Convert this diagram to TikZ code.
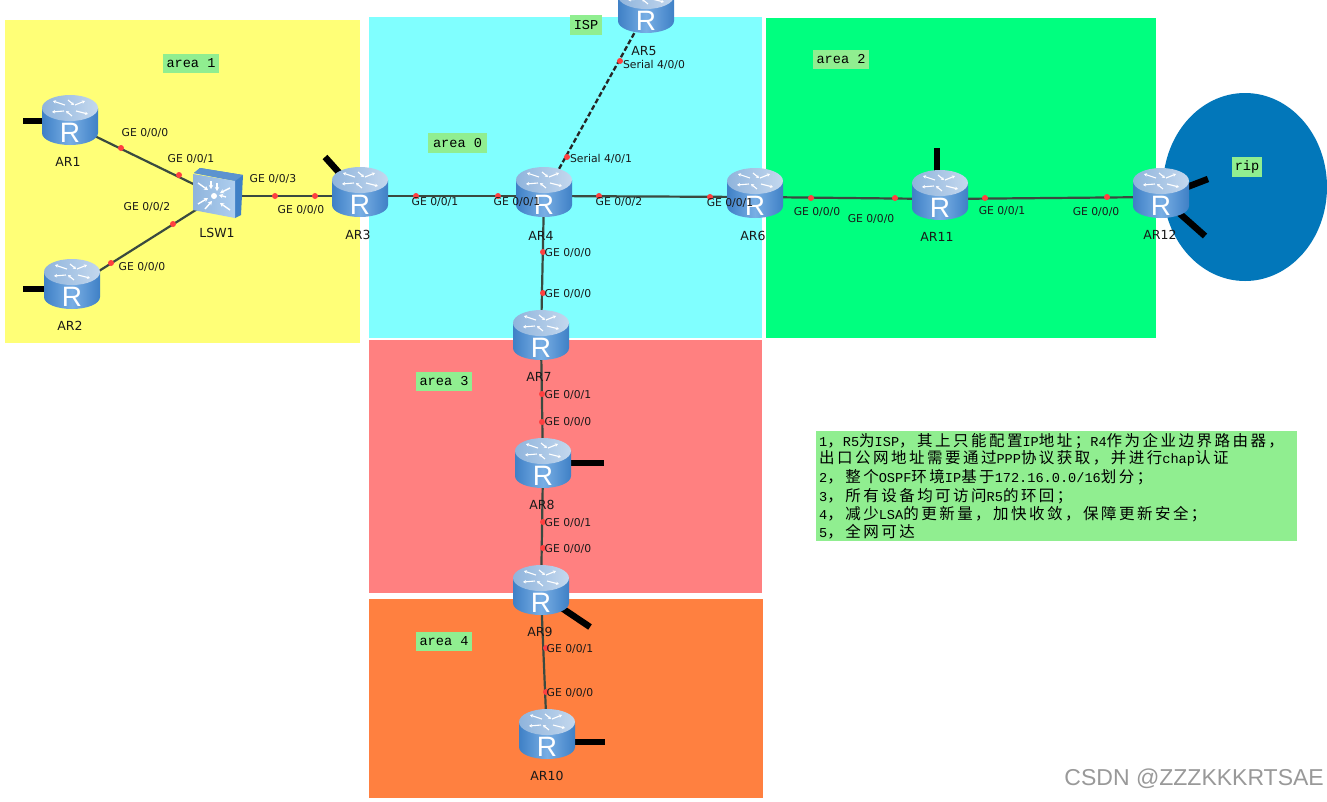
\documentclass[tikz,border=0pt]{standalone}
\usepackage{fontspec}
\usetikzlibrary{arrows.meta}
\setmainfont{DejaVu Sans}
\newfontfamily\monof{Liberation Mono}
\newfontfamily\cjk[LetterSpace=16]{Noto Sans CJK SC}
\newfontfamily\wmark{Liberation Sans}
\newcommand{\zh}[1]{{\fontsize{15.5}{18}\cjk #1}}
\definecolor{cyellow}{HTML}{FFFF77}
\definecolor{ccyan}{HTML}{80FFFF}
\definecolor{cgreen}{HTML}{00FF7F}
\definecolor{cred}{HTML}{FF8080}
\definecolor{corange}{HTML}{FF8040}
\definecolor{cblue}{HTML}{0277BA}
\definecolor{clabel}{HTML}{90EE90}
\definecolor{cport}{HTML}{FF4040}
\definecolor{rside}{HTML}{3F80C6}
\definecolor{rmid}{HTML}{78AEE4}
\definecolor{rtopa}{HTML}{8FB4DC}
\definecolor{rtopb}{HTML}{C4D8EE}
\definecolor{cline}{HTML}{3A4A40}
\tikzset{
  x=1pt,y=-1pt,
  device/.style={rectangle,minimum width=56pt,minimum height=42pt,inner sep=0},
  link/.style={draw=cline,line width=2.2pt},
  seriallink/.style={draw=black!85,line width=2.3pt,dash pattern=on 5pt off 2.5pt},
  stub/.style={draw=black,line width=6.5pt},
  portdot/.style={circle,fill=cport,minimum size=6pt,inner sep=0},
  portlab/.style={font=\fontsize{10.8}{12}\selectfont,inner sep=0,text=black!90},
  devlab/.style={font=\fontsize{12.5}{14}\selectfont,inner sep=0,text=black!90},
  tag/.style={fill=clabel,inner sep=0,font=\monof\fontsize{13.6}{15}\selectfont,text=black},
  swirl/.style={draw=white,line width=1.1pt,-{Stealth[length=3pt,width=3.5pt]}},
}
\newcommand{\routericon}[1]{%
  \begin{scope}[shift={(#1)}]
    \path[left color=rside,right color=rside,middle color=rmid]
      (-28,-16) -- (-28,9) .. controls (-28,16) and (-15,21) .. (0,21)
      .. controls (15,21) and (28,16) .. (28,9) -- (28,-16) -- cycle;
    \path[left color=rtopa,right color=rtopb] (0,-16) ellipse [x radius=28,y radius=13];
    \draw[swirl] (-5,-19) -- (-17,-23);
    \draw[swirl] (-6,-13) -- (-18,-12);
    \draw[swirl] (5,-19) -- (15,-23);
    \draw[swirl] (6,-13) -- (18,-10);
    \draw[swirl] (-2,-24) -- (4,-19);
    \draw[swirl] (2,-8) -- (-4,-13);
    \node[text=white,inner sep=0,font=\fontsize{28}{28}\selectfont\wmark] at (0,9) {R};
  \end{scope}}
\newcommand{\switchicon}[1]{%
  \begin{scope}[shift={(#1)}]
    \fill[rside] (-24,-23) -- (-18,-28) -- (25,-21) -- (23,19) -- (17,22) -- (17,-15) -- cycle;
    \fill[rside!85!white] (-24,-23) -- (-18,-28) -- (25,-21) -- (17,-15) -- cycle;
    \path[left color=rtopa,right color=rmid!60!white] (-25,-22) -- (17,-15) -- (17,22) -- (-25,14) -- cycle;
    \foreach \a/\b/\c/\d in {-20/-13/-10/-6, 12/-8/2/-3, -20/8/-10/2, 12/14/2/7,-7/-15/-7/-7,-1/-13/-1/-5,-13/13/-6/5,8/1/1/-1}
      \draw[draw=white,line width=1.4pt,-{Stealth[length=4pt,width=4.5pt]}] (\a,\b) -- (\c,\d);
    \fill[white] (-4,0) circle [radius=3];
  \end{scope}}
\begin{document}
\begin{tikzpicture}
\useasboundingbox (0,0) rectangle (1327,801);
\fill[white] (0,0) rectangle (1327,801);
% zones
\fill[cyellow] (5,20) rectangle (360,343);
\fill[ccyan] (369,17) rectangle (762,338);
\fill[cgreen] (766,18) rectangle (1156,338);
\fill[cred] (369,340) rectangle (762,593);
\fill[corange] (369,599) rectangle (763,798);
\fill[cblue] (1245,187) ellipse [x radius=82,y radius=94];
% devices (icon is drawn later, above the links)
\node[device] (AR1) at (70,124) {};
\node[device] (AR2) at (72,288) {};
\node[device] (AR3) at (360,196) {};
\node[device] (AR4) at (544,196) {};
\node[device] (AR5) at (646,12) {};
\node[device] (AR6) at (755,197) {};
\node[device] (AR7) at (541,339) {};
\node[device] (AR8) at (543,467) {};
\node[device] (AR9) at (541,594) {};
\node[device] (AR10) at (547,738) {};
\node[device] (AR11) at (940,199) {};
\node[device] (AR12) at (1161,197) {};
\node[rectangle,minimum width=48pt,minimum height=44pt,inner sep=0] (LSW1) at (218,196) {};
% free stub ends
\coordinate (s1) at (23,121);
\coordinate (s2) at (23,289);
\coordinate (s3) at (325,157);
\coordinate (s8) at (604,463);
\coordinate (s9) at (590,627);
\coordinate (s10) at (605,742);
\coordinate (s11) at (937,148);
\coordinate (s12a) at (1208,179);
\coordinate (s12b) at (1205,236);
\draw[stub] (AR1.center |- s1) -- (s1);
\draw[stub] (AR2.center |- s2) -- (s2);
\draw[stub] (AR3.center) -- (s3);
\draw[stub] (AR8.center |- s8) -- (s8);
\draw[stub] (AR9.center) -- (s9);
\draw[stub] (AR10.center |- s10) -- (s10);
\draw[stub] (s11 |- AR11.center) -- (s11);
\draw[stub] (AR12.center) -- (s12a);
\draw[stub] (AR12.center) -- (s12b);
% links
\draw[link] (AR1.center) -- (LSW1.center);
\draw[link] (AR2.center) -- (LSW1.center);
\draw[link] (LSW1.center) -- (AR3.center);
\draw[link] (AR3.center) -- (AR4.center);
\draw[link] (AR4.center) -- (AR6.center);
\draw[link] (AR6.center) -- (AR11.center);
\draw[link] (AR11.center) -- (AR12.center);
\draw[link] (AR4.center) -- (AR7.center);
\draw[link] (AR7.center) -- (AR8.center);
\draw[link] (AR8.center) -- (AR9.center);
\draw[link] (AR9.center) -- (AR10.center);
\draw[seriallink] (AR5) -- (AR4);
% icons
\foreach \n in {AR1,AR2,AR3,AR4,AR5,AR6,AR7,AR8,AR9,AR10,AR11,AR12} {\routericon{\n}}
\switchicon{LSW1}
% ports
\foreach \p [count=\i] in {(121,148),(179,175),(173,224),(111,263),(275,196),(315,196),
  (620,61),(567,157),(416,196),(498,196),(599,196),(710,197),(543,252),(543,293),
  (542,394),(542,422),(543,522),(543,548),(546,648),(546,692),
  (811,198),(895,198),(985,198),(1107,197)}
  {\node[portdot] (port\i) at \p {};}
% device labels
\node[devlab] (lAR1) at (68,162) {AR1};
\node[devlab] (lAR2) at (70,326) {AR2};
\node[devlab] (lAR3) at (358,235) {AR3};
\node[devlab] (lLSW) at (217,233) {LSW1};
\node[devlab] (lAR4) at (541,236) {AR4};
\node[devlab] (lAR5) at (644,51) {AR5};
\node[devlab] (lAR6) at (753,236) {AR6};
\node[devlab] (lAR7) at (539,377) {AR7};
\node[devlab] (lAR8) at (542,505) {AR8};
\node[devlab] (lAR9) at (540,632) {AR9};
\node[devlab] (lAR10) at (547,776) {AR10};
\node[devlab] (lAR11) at (937,237) {AR11};
\node[devlab] (lAR12) at (1160,235) {AR12};
% port labels
\foreach \p/\t [count=\i] in {(145,133)/GE 0\slash0\slash0,(191,159)/GE 0\slash0\slash1,(147,207)/GE 0\slash0\slash2,
  (142,267)/GE 0\slash0\slash0,(273,179)/GE 0\slash0\slash3,(301,210)/GE 0\slash0\slash0,
  (654,65)/Serial 4\slash0\slash0,(601,159)/Serial 4\slash0\slash1,
  (435,202)/GE 0\slash0\slash1,(517,202)/GE 0\slash0\slash1,(619,202)/GE 0\slash0\slash2,(730,203)/GE 0\slash0\slash1,
  (568,253)/GE 0\slash0\slash0,(568,294)/GE 0\slash0\slash0,(568,395)/GE 0\slash0\slash1,(568,422)/GE 0\slash0\slash0,
  (568,523)/GE 0\slash0\slash1,(568,549)/GE 0\slash0\slash0,(570,649)/GE 0\slash0\slash1,(570,693)/GE 0\slash0\slash0,
  (817,212)/GE 0\slash0\slash0,(871,219)/GE 0\slash0\slash0,(1002,211)/GE 0\slash0\slash1,(1096,212)/GE 0\slash0\slash0}
  {\node[portlab] (plab\i) at \p {\t};}
% tags
\node[tag,minimum width=56pt,minimum height=19pt] (t1) at (191,63.5) {area 1};
\node[tag,minimum width=59pt,minimum height=20pt] (t0) at (457.5,143) {area 0};
\node[tag,minimum width=56pt,minimum height=19pt] (t2) at (841,59.5) {area 2};
\node[tag,minimum width=56pt,minimum height=19pt] (t3) at (444,381.5) {area 3};
\node[tag,minimum width=56pt,minimum height=19pt] (t4) at (444,641.5) {area 4};
\node[tag,minimum width=32pt,minimum height=20pt] (tisp) at (586,25) {ISP};
\node[tag,minimum width=30pt,minimum height=20pt] (trip) at (1247,167) {rip};
% requirements
\node[anchor=north west,fill=clabel,minimum width=481pt,minimum height=110pt,text width=475pt,inner xsep=3pt,inner ysep=0,
  align=left,text=black,font=\monof\fontsize{13.6}{18.3}\selectfont] (req) at (816,431)
 {1\zh{，}R5\zh{为}ISP\zh{，其上只能配置}IP\zh{地址；}R4\zh{作为企业边界路由器，}\\[-1.5pt]
  \zh{出口公网地址需要通过}PPP\zh{协议获取，并进行}chap\zh{认证}\\[1.5pt]
  2\zh{，整个}OSPF\zh{环境}IP\zh{基于}172.16.0.0/16\zh{划分；}\\
  3\zh{，所有设备均可访问}R5\zh{的环回；}\\
  4\zh{，减少}LSA\zh{的更新量，加快收敛，保障更新安全；}\\
  5\zh{，全网可达}};
% watermark
\node[anchor=east,inner sep=0,text=black!40,font=\wmark\fontsize{23}{25}\selectfont] (wm) at (1324,779) {CSDN @ZZZKKKRTSAE};
\end{tikzpicture}
\end{document}
